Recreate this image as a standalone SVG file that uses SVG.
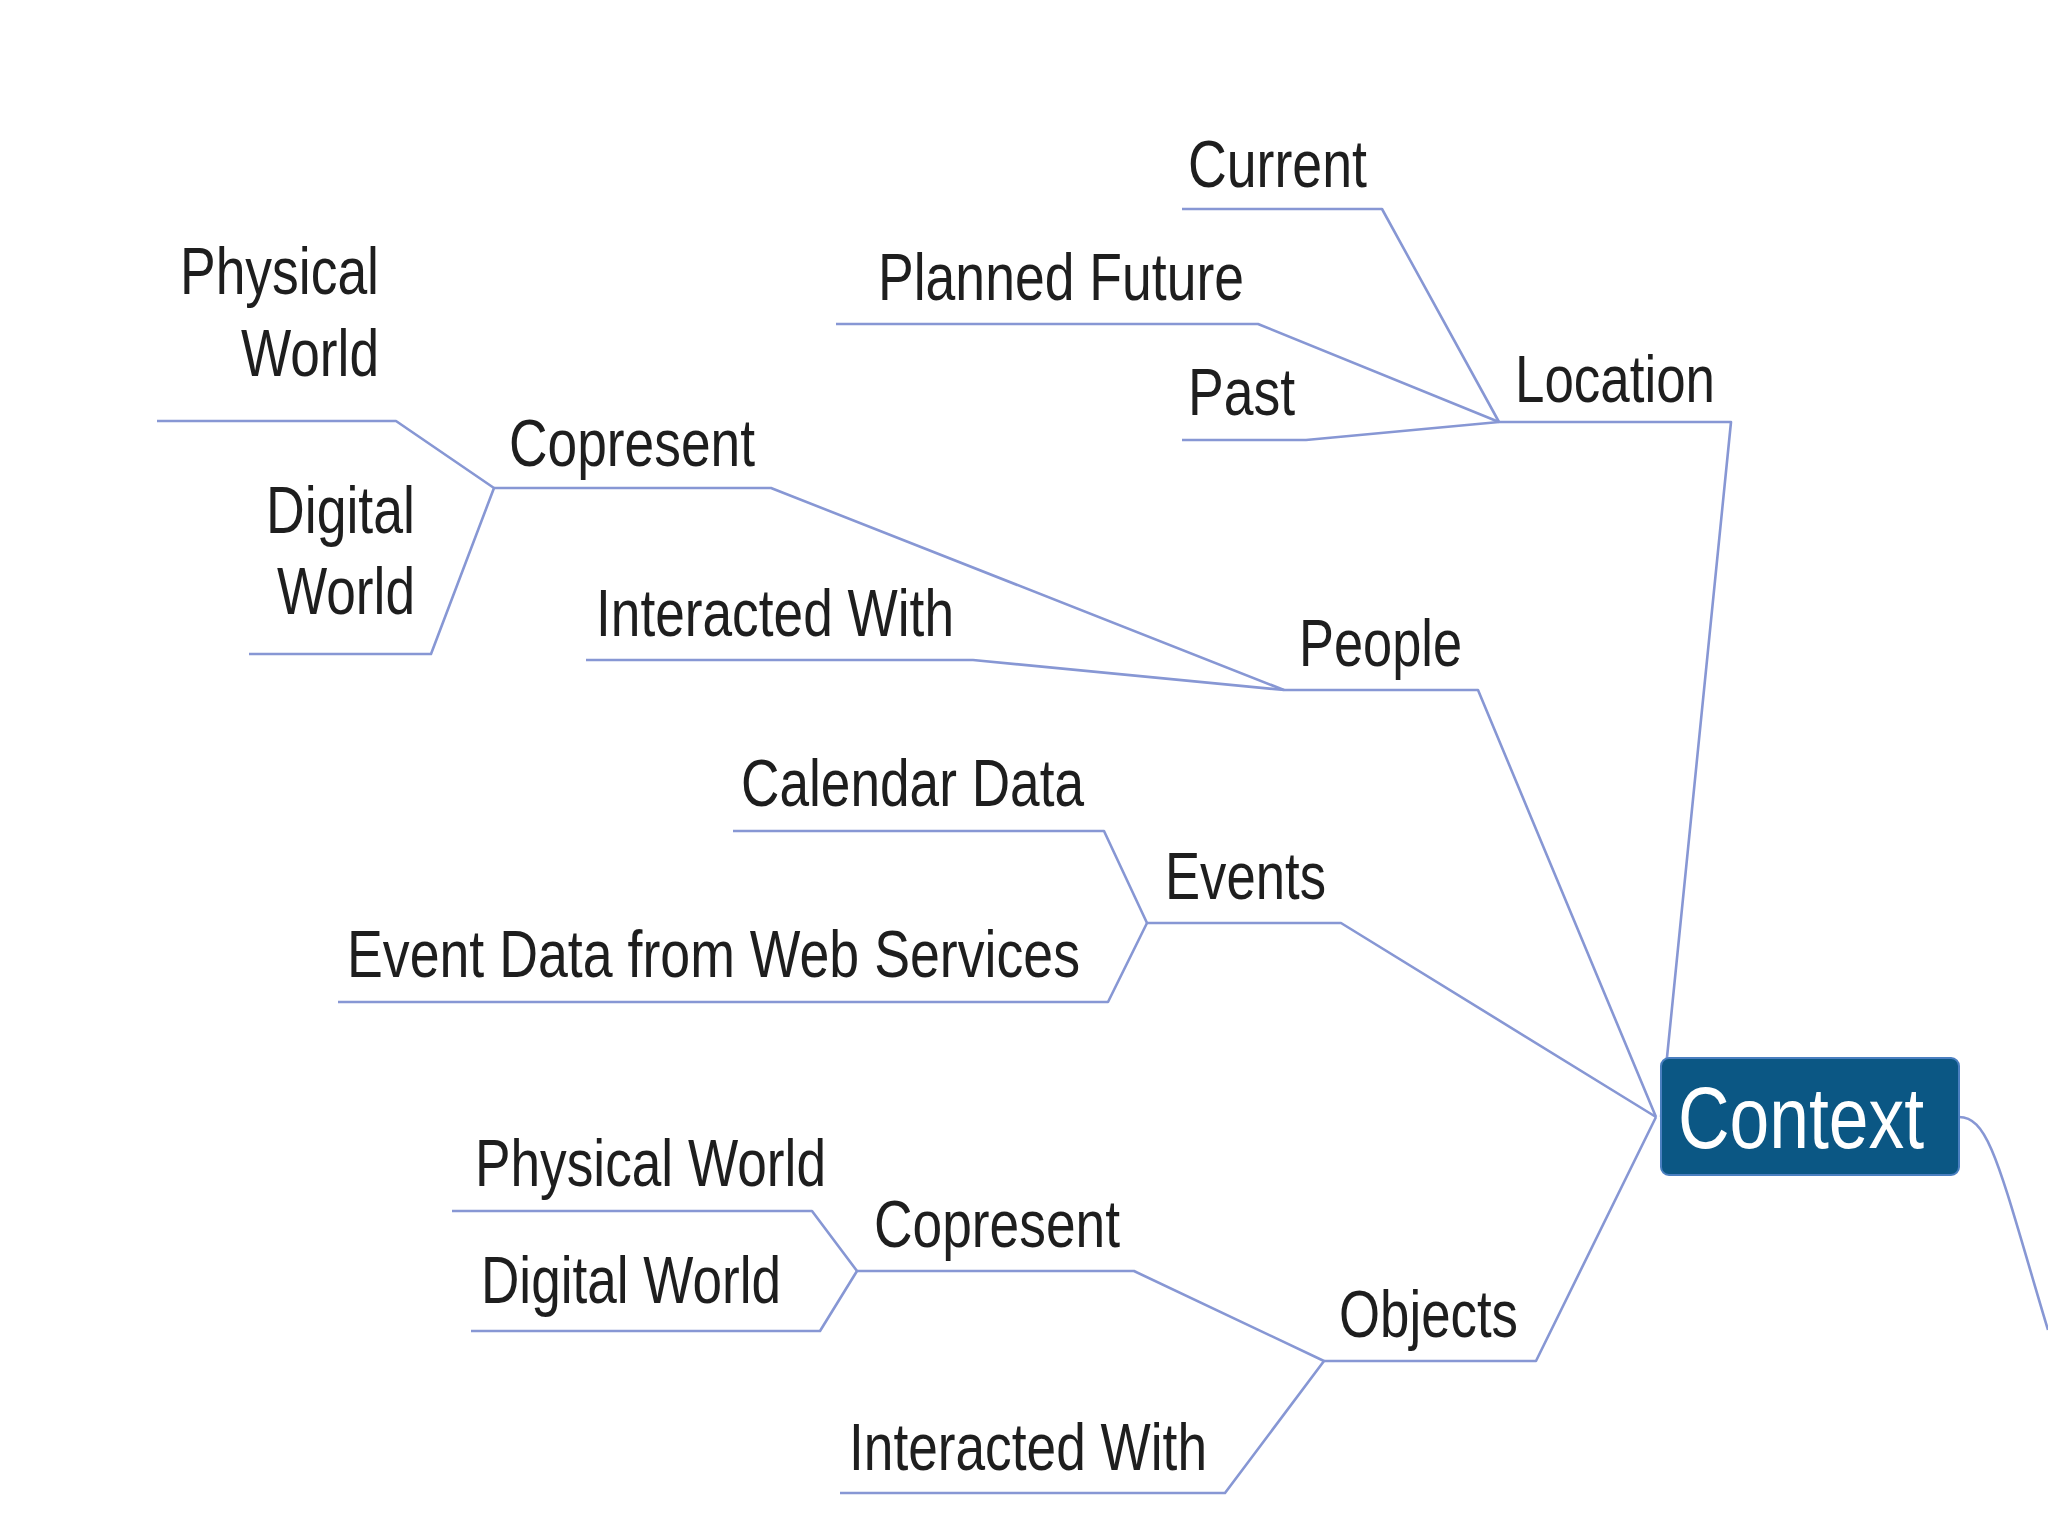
<svg xmlns="http://www.w3.org/2000/svg" width="2048" height="1536" viewBox="0 0 2048 1536">
<style>
.l{fill:none;stroke:#8797d4;stroke-width:2.6;stroke-linejoin:round}
.t{font-family:"Liberation Sans Narrow","Liberation Sans",Arial,sans-serif;font-size:66px;fill:#1e1e1e;lengthAdjust:spacingAndGlyphs}
.c{font-family:"Liberation Sans Narrow","Liberation Sans",Arial,sans-serif;font-size:88px;fill:#ffffff}
</style>
<rect width="2048" height="1536" fill="#ffffff"/>
<g id="connectors">
<path class="l" d="M1182,209 H1382 L1499,422"/>
<path class="l" d="M836,324 H1258 L1499,422"/>
<path class="l" d="M1182,440 H1306 L1499,422"/>
<path class="l" d="M1499,422 H1731 L1661,1117"/>
<path class="l" d="M1284,690 H1478 L1656,1117"/>
<path class="l" d="M494,488 H771 L1284,690"/>
<path class="l" d="M586,660 H973 L1284,690"/>
<path class="l" d="M157,421 H396 L494,488"/>
<path class="l" d="M249,654 H431 L494,488"/>
<path class="l" d="M1147,923 H1341 L1656,1117"/>
<path class="l" d="M733,831 H1104 L1147,923"/>
<path class="l" d="M338,1002 H1108 L1147,923"/>
<path class="l" d="M1324,1361 H1536 L1656,1117"/>
<path class="l" d="M857,1271 H1134 L1324,1361"/>
<path class="l" d="M452,1211 H812 L857,1271"/>
<path class="l" d="M471,1331 H820 L857,1271"/>
<path class="l" d="M840,1493 H1225 L1324,1361"/>
<path class="l" d="M1959,1117 C1990,1117 2000,1170 2048,1330"/>
</g>
<g id="context"><rect x="1661" y="1058" width="298" height="117" rx="8" fill="#0b5784" stroke="#4a7fc0" stroke-width="2"/><text class="c" x="1678" y="1148" textLength="246" lengthAdjust="spacingAndGlyphs">Context</text></g>
<g id="location"><text class="t" x="1515" y="402" textLength="200" lengthAdjust="spacingAndGlyphs">Location</text></g>
<g id="current"><text class="t" x="1188" y="187" textLength="179" lengthAdjust="spacingAndGlyphs">Current</text></g>
<g id="planned"><text class="t" x="878" y="300" textLength="366" lengthAdjust="spacingAndGlyphs">Planned Future</text></g>
<g id="past"><text class="t" x="1188" y="415" textLength="107" lengthAdjust="spacingAndGlyphs">Past</text></g>
<g id="people"><text class="t" x="1299" y="666" textLength="163" lengthAdjust="spacingAndGlyphs">People</text></g>
<g id="copresent1"><text class="t" x="509" y="466" textLength="246" lengthAdjust="spacingAndGlyphs">Copresent</text></g>
<g id="interacted1"><text class="t" x="596" y="636" textLength="358" lengthAdjust="spacingAndGlyphs">Interacted With</text></g>
<g id="physical1"><text class="t" x="180" y="294" textLength="199" lengthAdjust="spacingAndGlyphs">Physical</text><text class="t" x="241" y="376" textLength="138" lengthAdjust="spacingAndGlyphs">World</text></g>
<g id="digital1"><text class="t" x="266" y="533" textLength="149" lengthAdjust="spacingAndGlyphs">Digital</text><text class="t" x="277" y="614" textLength="138" lengthAdjust="spacingAndGlyphs">World</text></g>
<g id="events"><text class="t" x="1165" y="899" textLength="161" lengthAdjust="spacingAndGlyphs">Events</text></g>
<g id="calendar"><text class="t" x="741" y="806" textLength="343" lengthAdjust="spacingAndGlyphs">Calendar Data</text></g>
<g id="eventdata"><text class="t" x="347" y="977" textLength="733" lengthAdjust="spacingAndGlyphs">Event Data from Web Services</text></g>
<g id="objects"><text class="t" x="1339" y="1337" textLength="179" lengthAdjust="spacingAndGlyphs">Objects</text></g>
<g id="copresent2"><text class="t" x="874" y="1247" textLength="246" lengthAdjust="spacingAndGlyphs">Copresent</text></g>
<g id="physical2"><text class="t" x="475" y="1186" textLength="351" lengthAdjust="spacingAndGlyphs">Physical World</text></g>
<g id="digital2"><text class="t" x="481" y="1303" textLength="300" lengthAdjust="spacingAndGlyphs">Digital World</text></g>
<g id="interacted2"><text class="t" x="849" y="1470" textLength="358" lengthAdjust="spacingAndGlyphs">Interacted With</text></g>
</svg>
